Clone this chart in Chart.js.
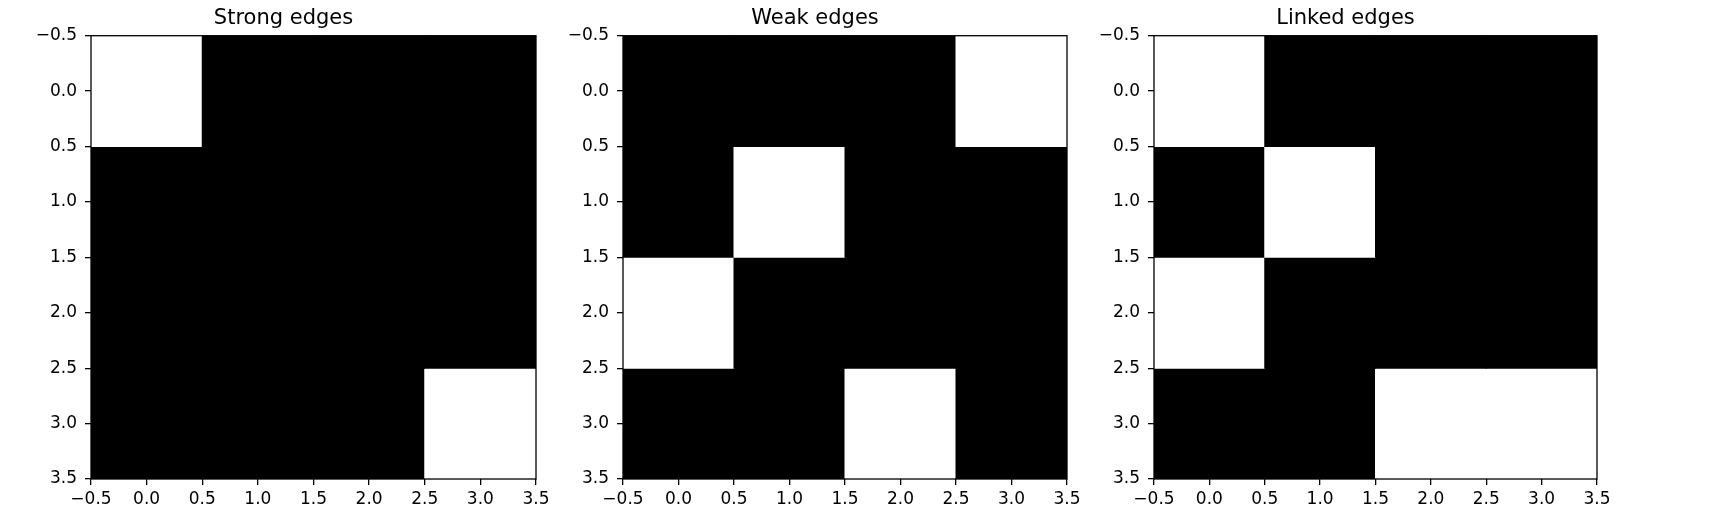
<!DOCTYPE html>
<html>
<head>
<meta charset="utf-8">
<script src="https://cdn.jsdelivr.net/npm/chart.js@4/dist/chart.umd.min.js"></script>
<style>
  html, body { margin: 0; padding: 0; background: #fff; }
  body { width: 1710px; height: 530px; position: relative; overflow: hidden; }
  canvas { position: absolute; top: 0; }
</style>
</head>
<body>
<canvas id="c0" width="565" height="530" style="left:31px"></canvas>
<canvas id="c1" width="564" height="530" style="left:563px"></canvas>
<canvas id="c2" width="563" height="530" style="left:1094px"></canvas>
<script>
'use strict';

// grid cells: 1 = edge pixel (white), 0 = background (black)
const rows = [0, 1, 2, 3];
const cols = [0, 1, 2, 3];
const strongEdges = [[1, 0, 0, 0], [0, 0, 0, 0], [0, 0, 0, 0], [0, 0, 0, 1]];
const weakEdges   = [[0, 0, 0, 1], [0, 1, 0, 0], [1, 0, 0, 0], [0, 0, 1, 0]];
const linkedEdges = [[1, 0, 0, 0], [0, 1, 0, 0], [1, 0, 0, 0], [0, 0, 1, 1]];
const titles = ['Strong edges', 'Weak edges', 'Linked edges'];
const tickValues = [-0.5, 0, 0.5, 1, 1.5, 2, 2.5, 3, 3.5];
const tickLabels = ['\u22120.5', '0.0', '0.5', '1.0', '1.5', '2.0', '2.5', '3.0', '3.5'];

Chart.defaults.font.family = "'DejaVu Sans', sans-serif";
Chart.defaults.color = '#000';

const AXIS_W = 60;
const tickFont = { size: 17 };
const labelFor = v => tickLabels[tickValues.indexOf(v)];
const setTicks = s => { s.ticks = tickValues.map(v => ({ value: v })); };

const framePlugin = {
  id: 'frame',
  afterDatasetsDraw(chart) {
    const { ctx, chartArea: a } = chart;
    ctx.save();
    ctx.strokeStyle = '#000';
    ctx.lineWidth = 1.3;
    ctx.strokeRect(a.left, a.top, a.right - a.left, a.bottom - a.top);
    ctx.restore();
  },
};

function tickGrid() {
  return { drawOnChartArea: false, drawTicks: true, tickLength: 6, color: '#000', lineWidth: 1.3, offset: false };
}

function makePanel(id, title, matrix) {
  const datasets = rows.map(r => ({
    label: 'row ' + r,
    data: cols.map(() => [r - 0.5, r + 0.5]),
    backgroundColor: matrix[r].map(v => (v ? '#ffffff' : '#000000')),
    borderWidth: 0,
    grouped: false,
    barPercentage: 1,
    categoryPercentage: 1,
    inflateAmount: 0.5,
  }));

  return new Chart(document.getElementById(id), {
    type: 'bar',
    data: { labels: cols.map(String), datasets },
    plugins: [framePlugin],
    options: {
      responsive: false,
      animation: false,
      layout: { padding: { left: 0, right: AXIS_W, top: 0, bottom: 0 } },
      plugins: {
        legend: { display: false },
        tooltip: { enabled: false },
        title: {
          display: true,
          text: title,
          color: '#000',
          font: { size: 21, weight: 'normal', lineHeight: 1.2 },
          padding: { top: 6, bottom: 4.5 },
        },
      },
      scales: {
        x: { type: 'category', display: false, offset: true },
        xTicks: {
          type: 'linear',
          axis: 'x',
          position: 'bottom',
          offset: false,
          min: -0.5,
          max: 3.5,
          afterBuildTicks: setTicks,
          afterFit: s => { s.height = 51; },
          grid: tickGrid(),
          border: { display: false },
          ticks: { font: tickFont, color: '#000', padding: 4, autoSkip: false, maxRotation: 0, callback: labelFor },
        },
        y: {
          type: 'linear',
          reverse: true,
          min: -0.5,
          max: 3.5,
          beginAtZero: false,
          afterBuildTicks: setTicks,
          afterFit: s => { s.width = AXIS_W; },
          grid: tickGrid(),
          border: { display: false },
          ticks: { font: tickFont, color: '#000', padding: 8, autoSkip: false, callback: labelFor },
        },
      },
    },
  });
}

makePanel('c0', titles[0], strongEdges);
makePanel('c1', titles[1], weakEdges);
makePanel('c2', titles[2], linkedEdges);
</script>
</body>
</html>
